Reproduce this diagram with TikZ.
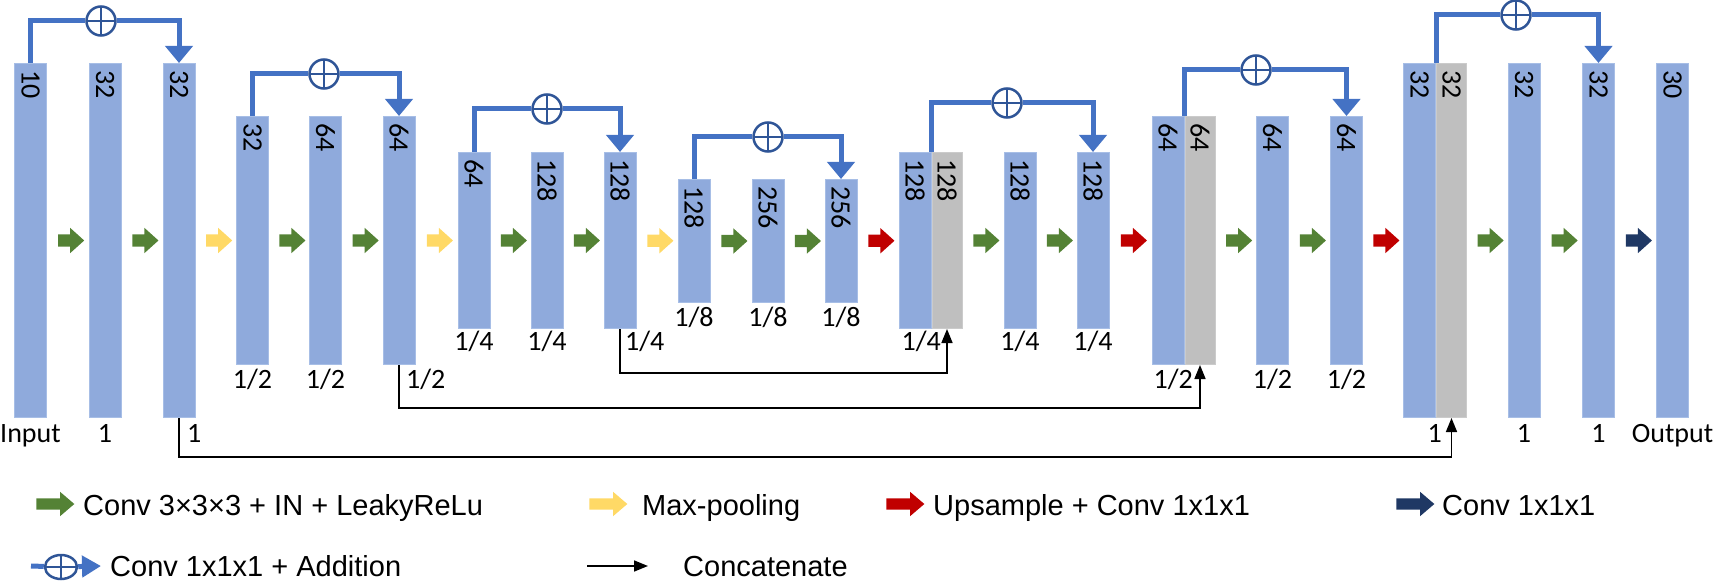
\documentclass[tikz,border=0pt]{standalone}
\usepackage{fontspec}
\setmainfont{Carlito}
\newfontfamily\legendfont{Liberation Sans}
\usetikzlibrary{arrows.meta,positioning,calc,shapes.arrows,shapes.geometric}
\definecolor{barblue}{HTML}{8FAADC}
\definecolor{barframe}{HTML}{A7BEE6}
\definecolor{bargray}{HTML}{BFBFBF}
\definecolor{grayframe}{HTML}{CBCBCB}
\definecolor{skipblue}{HTML}{4472C4}
\definecolor{plusblue}{HTML}{2F5597}
\definecolor{convgreen}{HTML}{548235}
\definecolor{poolyellow}{HTML}{FFD966}
\definecolor{upred}{HTML}{C00000}
\definecolor{outnavy}{HTML}{1F3864}

\begin{document}
\begin{tikzpicture}[
    x=1pt, y=-1pt,
    every node/.style={font=\fontsize{28}{32}\selectfont, inner sep=0pt},
    bar/.style={rectangle, fill=barblue, draw=barframe, line width=1pt, minimum width=32pt},
    catbar/.style={bar, fill=bargray, draw=grayframe, minimum width=30pt},
    lvlzero/.style={minimum height=354pt},
    lvlone/.style={minimum height=248pt},
    lvltwo/.style={minimum height=176pt},
    lvlthree/.style={minimum height=123pt},
    chan/.style={rotate=-90, anchor=west},
    res/.style={anchor=base},
    blockarrow/.style={single arrow, minimum height=26pt, minimum width=25pt,
        single arrow head extend=6.5pt, single arrow tip angle=84,
        text height=6pt, text depth=6pt, text width=0pt},
    legendarrow/.style={minimum height=38pt, minimum width=24pt,
        single arrow tip angle=81, text height=5.5pt, text depth=5.5pt},
    convarrow/.style={blockarrow, fill=convgreen},
    poolarrow/.style={blockarrow, fill=poolyellow},
    uparrow/.style={blockarrow, fill=upred},
    outarrow/.style={blockarrow, fill=outnavy},
    skip/.style={draw=skipblue, line width=5pt, -{Triangle[width=27pt,length=17pt]}},
    addnode/.style={circle, draw=plusblue, fill=white, line width=2.5pt, minimum size=29pt,
        path picture={\draw[plusblue, line width=2pt]
            (path picture bounding box.north) -- (path picture bounding box.south)
            (path picture bounding box.west) -- (path picture bounding box.east);}},
    concat/.style={draw, line width=1.6pt, -{Triangle[width=11pt,length=14pt]}},
    legend/.style={font=\legendfont\fontsize{29}{34}\selectfont, anchor=base west}
]
    \useasboundingbox (0,0) rectangle (1717,583);

    % === ENCODER ===
    \node[bar, lvlzero] (b1) at (30.5,240.5) {};
    \node[bar, lvlzero] (b2) at (105,240.5) {};
    \node[bar, lvlzero] (b3) at (179,240.5) {};
    \node[bar, lvlone] (b4) at (252.5,240.5) {};
    \node[bar, lvlone] (b5) at (325.5,240.5) {};
    \node[bar, lvlone] (b6) at (399,240.5) {};
    \node[bar, lvltwo] (b7) at (474,240.5) {};
    \node[bar, lvltwo] (b8) at (547,240.5) {};
    \node[bar, lvltwo] (b9) at (620,240.5) {};
    \node[bar, lvlthree] (b10) at (694,241) {};
    \node[bar, lvlthree] (b11) at (768,241) {};
    \node[bar, lvlthree] (b12) at (841,241) {};

    % === DECODER (blue + concatenated gray) ===
    \node[bar, lvltwo] (b13) at (915,240.5) {};
    \node[catbar, lvltwo, right=0pt of b13] (g13) {};
    \node[bar, lvltwo] (b14) at (1020,240.5) {};
    \node[bar, lvltwo] (b15) at (1093,240.5) {};
    \node[bar, lvlone] (b16) at (1168,240.5) {};
    \node[catbar, lvlone, right=0pt of b16] (g16) {};
    \node[bar, lvlone] (b17) at (1272.5,240.5) {};
    \node[bar, lvlone] (b18) at (1346.5,240.5) {};
    \node[bar, lvlzero] (b19) at (1419.5,240.5) {};
    \node[catbar, lvlzero, right=0pt of b19] (g19) {};
    \node[bar, lvlzero] (b20) at (1524,240.5) {};
    \node[bar, lvlzero] (b21) at (1598.5,240.5) {};
    \node[bar, lvlzero] (b22) at (1672.5,240.5) {};

    % Channel numbers
    \foreach \b/\c in {b1/10, b2/32, b3/32, b4/32, b5/64, b6/64, b7/64, b8/128, b9/128,
        b10/128, b11/256, b12/256, b13/128, g13/128, b14/128, b15/128, b16/64, g16/64,
        b17/64, b18/64, b19/32, g19/32, b20/32, b21/32, b22/30} {
        \node[chan] (c\b) at ([yshift=-7pt]\b.north) {\c};
    }

    % Resolutions
    \foreach \b/\r/\y in {b2/1/442, b4/1\slash 2/388, b5/1\slash 2/388, b7/1\slash 4/350,
        b8/1\slash 4/350, b10/1\slash 8/326, b11/1\slash 8/326, b12/1\slash 8/326,
        b14/1\slash 4/350, b15/1\slash 4/350, b17/1\slash 2/388, b18/1\slash 2/388,
        b20/1/442, b21/1/442} {
        \node[res] (r\b) at (\b |- 0,\y) {\r};
    }
    \node[res] (rb1) at (b1 |- 0,442) {Input};
    \node[res] (rb22) at (b22 |- 0,442) {Output};
    \node[res, anchor=base west] (rb3) at (187,442) {1};
    \node[res, anchor=base west] (rb6) at (406,388) {1/2};
    \node[res, anchor=base west] (rb9) at (625,350) {1/4};
    \node[res, anchor=base east] (rb13) at (941,350) {1/4};
    \node[res, anchor=base east] (rb16) at (1193,388) {1/2};
    \node[res, anchor=base east] (rb19) at (1442,442) {1};

    % === OPERATIONS BETWEEN BARS ===
    \foreach \l/\r/\s [count=\i] in {b1/b2/convarrow, b2/b3/convarrow, b3/b4/poolarrow,
        b4/b5/convarrow, b5/b6/convarrow, b6/b7/poolarrow, b7/b8/convarrow, b8/b9/convarrow,
        b9/b10/poolarrow, b10/b11/convarrow, b11/b12/convarrow, b12/b13/uparrow,
        g13/b14/convarrow, b14/b15/convarrow, b15/b16/uparrow, g16/b17/convarrow,
        b17/b18/convarrow, b18/b19/uparrow, g19/b20/convarrow, b20/b21/convarrow,
        b21/b22/outarrow} {
        \node[\s] (a\i) at ($(\l.east)!0.5!(\r.west)$) {};
    }

    % === RESIDUAL ADDITIONS ===
    \node[addnode] (s1) at (101,21) {};
    \draw[skip] (b1.north) |- (s1) -| (b3.north);
    \node[addnode] (s2) at (324,74) {};
    \draw[skip] (b4.north) |- (s2) -| (b6.north);
    \node[addnode] (s3) at (547,109) {};
    \draw[skip] (b7.north) |- (s3) -| (b9.north);
    \node[addnode] (s4) at (768,137) {};
    \draw[skip] (b10.north) |- (s4) -| (b12.north);
    \node[addnode] (s5) at (1007,103) {};
    \draw[skip] (b13.north east) |- (s5) -| (b15.north);
    \node[addnode] (s6) at (1256,70) {};
    \draw[skip] (b16.north east) |- (s6) -| (b18.north);
    \node[addnode] (s7) at (1516,15) {};
    \draw[skip] (b19.north east) |- (s7) -| (b21.north);

    % === CONCATENATIONS ===
    \draw[concat] (b3.south) -- ++(0,39) -| (g19.south);
    \draw[concat] (b6.south) -- ++(0,43) -| (g16.south);
    \draw[concat] (b9.south) -- ++(0,44) -| (g13.south);

    % === LEGEND ===
    \node[convarrow, legendarrow] (k1) at (52,504) {};
    \node[legend] (t1) at (83,515) {Conv 3×3×3 + IN + LeakyReLu};
    \node[poolarrow, legendarrow] (k2) at (605,504) {};
    \node[legend] (t2) at (642,515) {Max-pooling};
    \node[uparrow, legendarrow] (k3) at (902,504) {};
    \node[legend] (t3) at (933,515) {Upsample + Conv 1x1x1};
    \node[outarrow, legendarrow] (k4) at (1412,504) {};
    \node[legend] (t4) at (1442,515) {Conv 1x1x1};

    \coordinate (k5a) at (31,566);
    \coordinate (k5b) at (101,566);
    \node[addnode, ellipse, minimum width=32pt, minimum height=24pt] (k5) at (61,567) {};
    \draw[skip, -{Triangle[width=21pt,length=19pt]}] (k5a) -- (k5) -- (k5b);
    \node[legend] (t5) at (110,576) {Conv 1x1x1 + Addition};
    \coordinate (k6a) at (587,566);
    \coordinate (k6b) at (648,566);
    \draw[concat] (k6a) -- (k6b);
    \node[legend] (t6) at (683,576) {Concatenate};
\end{tikzpicture}
\end{document}
